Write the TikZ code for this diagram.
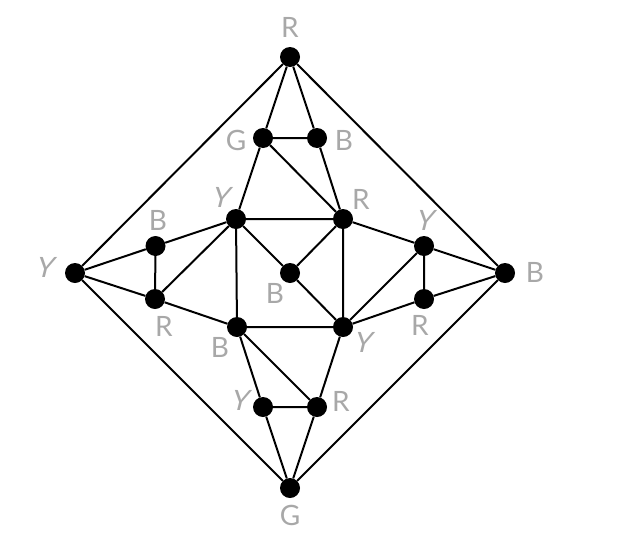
\documentclass[tikz,border=0pt]{standalone}
\usepackage{fontspec}
\setmainfont{Lato}
\definecolor{lab}{RGB}{168,168,168}
\tikzset{
  vertex/.style={circle,fill=black,draw=none,minimum size=20pt,inner sep=0pt},
  edge/.style={draw=black,line width=2pt},
  lbl/.style={text=lab,font=\fontsize{28}{28}\selectfont,inner sep=0pt,anchor=center},
  lbly/.style={lbl,xslant=0.25},
}
\begin{document}
\begin{tikzpicture}[x=1pt,y=-1pt]
\useasboundingbox (0,0) rectangle (644,538);
\fill[white] (0,0) rectangle (644,538);
\node[vertex] (t) at (290,57) {};
\node[vertex] (tg) at (263,138) {};
\node[vertex] (tb) at (317,138) {};
\node[vertex] (cy) at (236,219) {};
\node[vertex] (cr) at (343,219) {};
\node[vertex] (cb) at (290,273) {};
\node[vertex] (l) at (75,273) {};
\node[vertex] (lb) at (155.5,246) {};
\node[vertex] (lr) at (155,299) {};
\node[vertex] (r) at (505,273) {};
\node[vertex] (ry) at (424,246) {};
\node[vertex] (rr) at (424,299) {};
\node[vertex] (db) at (237,327) {};
\node[vertex] (dy) at (343,327) {};
\node[vertex] (by) at (263,407) {};
\node[vertex] (br) at (317,407) {};
\node[vertex] (b) at (290,488) {};
\path[edge]
 (t)--(l) (t)--(r) (t)--(tg) (t)--(tb) (tg)--(tb) (tg)--(cy) (tg)--(cr) (tb)--(cr)
 (cy)--(cr) (cy)--(cb) (cr)--(cb) (cb)--(dy) (cy)--(db) (cr)--(dy) (db)--(dy)
 (cy)--(lb) (cy)--(lr) (lb)--(lr) (l)--(lb) (l)--(lr) (lr)--(db)
 (cr)--(ry) (dy)--(ry) (dy)--(rr) (ry)--(rr) (ry)--(r) (rr)--(r)
 (r)--(b) (l)--(b) (db)--(by) (db)--(br) (dy)--(br) (by)--(br) (by)--(b) (br)--(b);
\node[lbl] (n1) at (290,27) {R};
\node[lbl] (n2) at (236,140) {G};
\node[lbl] (n3) at (344,140) {B};
\node[lbly] (n4) at (222,197) {Y};
\node[lbl] (n5) at (361,199) {R};
\node[lbly] (n6) at (426,220) {Y};
\node[lbl] (n7) at (158,220) {B};
\node[lbly] (n8) at (46,267) {Y};
\node[lbl] (n9) at (164,326) {R};
\node[lbl] (n10) at (275,293) {B};
\node[lbl] (n11) at (220,347) {B};
\node[lbly] (n12) at (364,342) {Y};
\node[lbl] (n13) at (420,325) {R};
\node[lbl] (n14) at (535,272) {B};
\node[lbly] (n15) at (241,400) {Y};
\node[lbl] (n16) at (341,401) {R};
\node[lbl] (n17) at (290,515) {G};
\end{tikzpicture}
\end{document}
